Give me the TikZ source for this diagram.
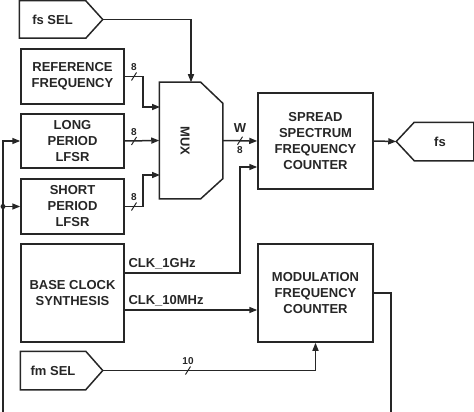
\documentclass[tikz,border=0pt]{standalone}
\usepackage{fontspec}
\setmainfont{Liberation Sans}
\usetikzlibrary{arrows.meta,calc}

\begin{document}
\begin{tikzpicture}[%
        x = 1pt,
        y = -1pt,
        line width = 1.5pt,
        line join = miter,
        color = black!85,
        > = {Triangle[length = 8pt, width = 6pt]},
        font = \fontsize{13}{16}\selectfont\bfseries,
        block/.style = {%
            draw = black!85,
            rectangle,
            align = center,
            minimum width = 103pt,
            inner sep = 0pt
        },
        port/.style = {%
            rectangle,
            minimum width = 65pt,
            minimum height = 36pt,
            inner sep = 0pt
        },
        buslabel/.style = {%
            font = \fontsize{10}{12}\selectfont\bfseries,
            inner sep = 0pt
        },
        tick/.style = {%
            draw = black!85,
            line width = 1pt
        }
    ]
        \useasboundingbox (0, 0) rectangle (474, 412);
        % input blocks
        \node (fssel) at (52.5, 19.5) [port] {fs SEL};
        \coordinate (fsseltip) at ([xshift = 17pt]fssel.east);
        \draw (fssel.north west) -- (fssel.north east) -- (fsseltip)
            -- (fssel.south east) -- (fssel.south west) -- cycle;
        \node (refbox) at (72.5, 76.5) [block, minimum height = 55pt] {REFERENCE\\FREQUENCY};
        \node (longbox) at (72.5, 141) [block, minimum height = 54pt] {LONG\\PERIOD\\LFSR};
        \node (shortbox) at (72.5, 206.5) [block, minimum height = 55pt] {SHORT\\PERIOD\\LFSR};
        \node (baseclk) at (72.5, 293) [block, minimum height = 98pt] {BASE CLOCK\\SYNTHESIS};
        \node (fmsel) at (53, 370.5) [port, minimum width = 64pt, minimum height = 37pt] {fm SEL};
        \coordinate (fmseltip) at ([xshift = 17pt]fmsel.east);
        \draw (fmsel.north west) -- (fmsel.north east) -- (fmseltip)
            -- (fmsel.south east) -- (fmsel.south west) -- cycle;
        % mux
        \node (mux) at (191, 140.5) [minimum width = 62pt, minimum height = 115pt, inner sep = 0pt] {};
        \draw (mux.north west) -- ([xshift = -22pt]mux.north east)
            -- ([yshift = -21pt]mux.north east) -- ([yshift = 20pt]mux.south east)
            -- ([xshift = -22pt]mux.south east) -- (mux.south west) -- cycle;
        \node (muxlbl) at (185, 141) [rotate = -90] {MUX};
        % counters
        \node (ssfc) at (315.5, 141) [block, minimum width = 115pt, minimum height = 96pt] {SPREAD\\SPECTRUM\\FREQUENCY\\COUNTER};
        \node (mfc) at (315.5, 293) [block, minimum width = 115pt, minimum height = 98pt] {MODULATION\\FREQUENCY\\COUNTER};
        \node (fsout) at (444, 141.5) [port, minimum width = 58pt, minimum height = 37pt] {\hspace*{-8pt}fs};
        \coordinate (fsouttip) at ([xshift = -18pt]fsout.west);
        \draw (fsout.north east) -- (fsout.north west) -- (fsouttip)
            -- (fsout.south west) -- (fsout.south east) -- cycle;
        % mux inputs
        \coordinate (muxa) at (160, 107);
        \coordinate (muxc) at (160, 175);
        \draw[->] (fsseltip) -| (mux.north);
        \draw[->] (refbox.east) -- (143, 76.5) |- (muxa);
        \draw[->] (longbox.east) -- (mux.west);
        \draw[->] (shortbox.east) -- (143, 206.5) |- (muxc);
        % bus widths
        \coordinate (refbus) at (134, 76.5);
        \coordinate (longbus) at (134, 141);
        \coordinate (shortbus) at (134, 206.5);
        \draw[tick] ([xshift = -2.5pt, yshift = -4pt]refbus) -- ([xshift = 2.5pt, yshift = 4pt]refbus);
        \draw[tick] ([xshift = -2.5pt, yshift = -4pt]longbus) -- ([xshift = 2.5pt, yshift = 4pt]longbus);
        \draw[tick] ([xshift = -2.5pt, yshift = -4pt]shortbus) -- ([xshift = 2.5pt, yshift = 4pt]shortbus);
        \node (reflbl) at (refbus) [above = 5pt, buslabel] {8};
        \node (longlbl) at (longbus) [above = 5pt, buslabel] {8};
        \node (shortlbl) at (shortbus) [above = 5pt, buslabel] {8};
        % mux output
        \coordinate (wmid) at ($(mux.east)!0.5!(ssfc.west)$);
        \draw[->] (mux.east) -- (ssfc.west);
        \draw[tick] ([xshift = -2.5pt, yshift = -4pt]wmid) -- ([xshift = 2.5pt, yshift = 4pt]wmid);
        \node (wlbl) at (wmid) [above = 8pt, inner sep = 0pt] {W};
        \node (wbus) at (wmid) [below = 5pt, buslabel] {8};
        \draw[->] (ssfc.east) -- (fsouttip);
        % clocks
        \coordinate (clka) at ([yshift = 20pt]baseclk.east);
        \coordinate (clkb) at ([yshift = -17pt]baseclk.east);
        \coordinate (ssin) at ([yshift = -26pt]ssfc.west);
        \draw[->] (clka) -- (wmid |- clka) |- (ssin);
        \draw[->] (clkb) -- (mfc.west |- clkb);
        \node (clkalbl) at (clka) [anchor = south west, inner sep = 3pt] {CLK\_1GHz};
        \node (clkblbl) at (clkb) [anchor = south west, inner sep = 3pt] {CLK\_10MHz};
        % modulation select
        \coordinate (fmbus) at (188, 370.5);
        \draw[->] (fmseltip) -| (mfc.south);
        \draw[tick] ([xshift = -2.5pt, yshift = -4pt]fmbus) -- ([xshift = 2.5pt, yshift = 4pt]fmbus);
        \node (fmlbl) at (fmbus) [above = 5pt, buslabel] {10};
        % feedback
        \coordinate (mfcdown) at (391, 412);
        \coordinate (busdown) at (3, 412);
        \draw (mfc.east) -| (mfcdown);
        \draw[->] (busdown) |- (longbox.west);
        \coordinate (busdot) at (busdown |- shortbox.west);
        \fill (busdot) circle (2.5pt);
        \draw[->] (busdot) -- (shortbox.west);
    \end{tikzpicture}
\end{document}
